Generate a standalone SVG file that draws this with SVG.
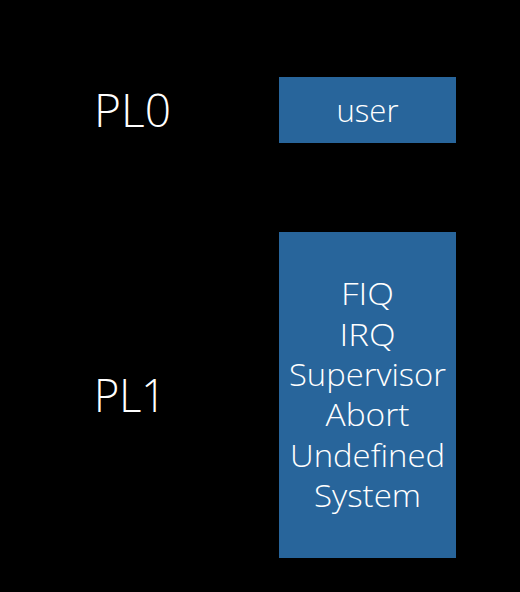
<svg xmlns="http://www.w3.org/2000/svg" width="520" height="592" viewBox="0 0 520 592">
<style>
.lbl{font-family:"Open Sans",Roboto,"Liberation Sans",sans-serif;font-weight:300;fill:#ffffff}
.box{fill:#28659b}
</style>
<rect x="0" y="0" width="520" height="592" fill="#000000"/>
<g id="pl0"><text class="lbl" x="94" y="127" font-size="46" textLength="77" lengthAdjust="spacingAndGlyphs">PL0</text></g>
<g id="pl1"><text class="lbl" x="94" y="412" font-size="46" textLength="72" lengthAdjust="spacingAndGlyphs">PL1</text></g>
<g id="user">
<rect class="box" x="279" y="77" width="177" height="66"/>
<text class="lbl" x="367.5" y="122" font-size="32" text-anchor="middle" textLength="62" lengthAdjust="spacingAndGlyphs">user</text>
</g>
<g id="privileged">
<rect class="box" x="279" y="232" width="177" height="326"/>
<g class="lbl" font-size="32" text-anchor="middle">
<text x="367.5" y="305" textLength="53" lengthAdjust="spacingAndGlyphs">FIQ</text>
<text x="367.5" y="346" textLength="56" lengthAdjust="spacingAndGlyphs">IRQ</text>
<text x="367.5" y="386" textLength="157" lengthAdjust="spacingAndGlyphs">Supervisor</text>
<text x="367.5" y="426" textLength="84" lengthAdjust="spacingAndGlyphs">Abort</text>
<text x="367.5" y="467" textLength="155" lengthAdjust="spacingAndGlyphs">Undefined</text>
<text x="367.5" y="507" textLength="107" lengthAdjust="spacingAndGlyphs">System</text>
</g>
</g>
<g id="connectors"></g>
</svg>
